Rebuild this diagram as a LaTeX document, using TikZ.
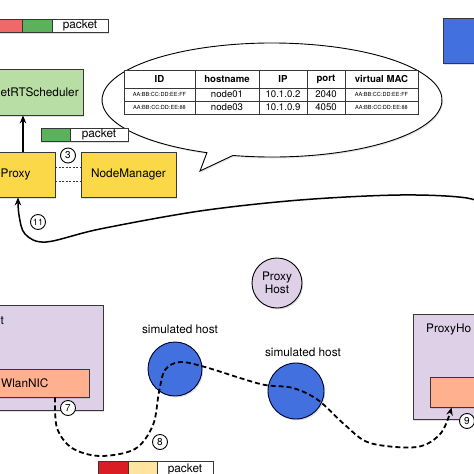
\documentclass[tikz,border=0pt]{standalone}
\usepackage{fontspec}
\setmainfont{TeX Gyre Heros}
\usetikzlibrary{arrows.meta,shadows}
\definecolor{schedgreen}{RGB}{185,222,165}
\definecolor{boxyellow}{RGB}{250,216,72}
\definecolor{lav}{RGB}{221,208,231}
\definecolor{salmon}{RGB}{255,176,143}
\definecolor{hostblue}{RGB}{66,112,222}
\definecolor{pkred}{RGB}{240,105,105}
\definecolor{pkgreen}{RGB}{92,178,92}
\definecolor{pkdred}{RGB}{218,28,36}
\definecolor{pkyellow}{RGB}{255,228,160}
\definecolor{edge}{RGB}{55,55,55}
\begin{document}
\begin{tikzpicture}[x=1pt,y=-1pt,
  shad/.style={drop shadow={shadow xshift=1.2pt,shadow yshift=-1.5pt,opacity=0.25}},
  box/.style={rectangle, draw=edge, line width=0.8pt, inner sep=0pt, shad,
    font=\fontsize{11.8}{14}\selectfont},
  cell/.style={rectangle, draw=edge, line width=0.8pt, inner sep=0pt, shad,
    font=\fontsize{11.8}{14}\selectfont},
  num/.style={circle, draw=black, line width=0.9pt, fill=white, minimum size=15pt,
    inner sep=0pt, font=\fontsize{10}{10}\selectfont},
  host/.style={circle, draw=black!85!blue, line width=0.9pt, fill=hostblue, minimum size=#1, inner sep=0pt, shad},
  lbl/.style={font=\fontsize{11.8}{13}\selectfont, inner sep=0pt},
  th/.style={font=\fontsize{9.6}{11}\selectfont\bfseries, inner sep=0pt},
  td/.style={font=\fontsize{9.6}{11}\selectfont, inner sep=0pt},
  tmac/.style={font=\fontsize{5.6}{7}\selectfont, inner sep=0pt},
  arr/.style={line width=1.5pt, black, -{Stealth[length=8pt,width=6.5pt]}},
  dpath/.style={line width=1.8pt, black, dash pattern=on 5pt off 3pt, -{Stealth[length=8pt,width=6.5pt]}},
  thindash/.style={line width=0.7pt, edge, dash pattern=on 2pt off 1.5pt}
]
\useasboundingbox (0,0) rectangle (474,474);
\clip (0,0) rectangle (474,474);

% top-left packet
\node[cell, fill=pkred, minimum width=32, minimum height=13] (p1a) at (6,25.5) {};
\node[cell, fill=pkgreen, minimum width=30, minimum height=13] (p1b) at (37,25.5) {};
\node[cell, fill=white, minimum width=56, minimum height=13] (p1c) at (80,25.5) {packet};

% scheduler
\node[box, fill=schedgreen, minimum width=99, minimum height=46] (sched) at (33.5,92) {};
\node[lbl, anchor=west] (schedl) at (0.5,92) {etRTScheduler};

% top-right blue square
\node[box, fill=hostblue, minimum width=80, minimum height=45] (blue) at (483,40.5) {};

% speech bubble
\draw[line width=0.9pt, black, fill=white, drop shadow={shadow xshift=1pt,shadow yshift=-1.5pt,opacity=0.2}]
  (272,100) ++(103.3:170 and 57)
  arc[start angle=103.3, end angle=-247.5, x radius=170, y radius=57]
  -- (200,171) -- cycle;

% table
\draw[line width=0.9pt, edge, fill=white] (124,70) rectangle (418,114);
\draw[line width=0.6pt, edge] (124,88) -- (418,88) (124,101) -- (418,101)
  (195,70) -- (195,114) (259,70) -- (259,114) (307,70) -- (307,114) (345,70) -- (345,114);
\node[th] (h1) at (159.5,79) {ID};
\node[th] (h2) at (227,79) {hostname};
\node[th] (h3) at (283,79) {IP};
\node[th] (h4) at (326,79.5) {port};
\node[th] (h5) at (381.5,79) {virtual MAC};
\node[tmac] (r11) at (159.5,94.5) {AA:BB:CC:DD:EE:FF};
\node[td] (r12) at (227,94.5) {node01};
\node[td] (r13) at (283,94.5) {10.1.0.2};
\node[td] (r14) at (326,94.5) {2040};
\node[tmac] (r15) at (381.5,94.5) {AA:BB:CC:DD:EE:FF};
\node[tmac] (r21) at (159.5,107.5) {AA:BB:CC:DD:EE:88};
\node[td] (r22) at (227,107.5) {node03};
\node[td] (r23) at (283,107.5) {10.1.0.9};
\node[td] (r24) at (326,107.5) {4050};
\node[tmac] (r25) at (381.5,107.5) {AA:BB:CC:DD:EE:88};

% second packet
\node[cell, fill=pkgreen, minimum width=29, minimum height=13] (p2a) at (55.5,134.5) {};
\node[cell, fill=white, minimum width=58, minimum height=13] (p2b) at (99,134.5) {packet};

% Proxy and NodeManager
\node[box, fill=boxyellow, minimum width=86, minimum height=45] (proxy) at (12,174.5) {};
\node[lbl, anchor=west] (proxyl) at (0.5,174.5) {Proxy};
\node[box, fill=boxyellow, minimum width=95, minimum height=45] (nm) at (128.5,174.5) {NodeManager};
\draw[thindash] ([yshift=7pt]proxy.east) -- ([yshift=7pt]nm.west);
\draw[thindash] ([yshift=-7pt]proxy.east) -- ([yshift=-7pt]nm.west);

\coordinate (pa) at ([xshift=11pt]proxy.north);
\draw[arr] (pa) -- (pa |- sched.south);
\node[num] (n3) at (68,155.5) {3};

% big return curve (11)
\coordinate (rin) at (492,209);
\coordinate (pb) at ([xshift=6pt]proxy.south);
\draw[arr] plot[smooth, tension=0.55] coordinates {(rin) (467,198) (400,195) (300,200) (200,211) (100,229) (46,242) (25,234) (19,215) (pb)};
\node[num] (n11) at (38,222) {\fontsize{9}{9}\selectfont 11};

% Proxy Host circle
\node[circle, draw=black, line width=0.9pt, fill=lav, minimum size=50pt, inner sep=0pt, shad,
  align=center, font=\fontsize{11.8}{13}\selectfont] (ph) at (277,283) {Proxy\\Host};

% left host box
\node[box, fill=lav, minimum width=150, minimum height=105] (lhost) at (28,357.5) {};
\node[lbl, anchor=west] (lhl) at (0.5,321) {t};
\node[box, fill=salmon, minimum width=130, minimum height=28] (nic) at (24,383) {};
\node[lbl, anchor=west] (nicl) at (1,383) {WlanNIC};

% right proxy host box
\node[box, fill=lav, minimum width=120, minimum height=105] (rhost) at (473,366.5) {};
\node[lbl, anchor=west] (rhl) at (426,329) {ProxyHo};
\node[box, fill=salmon, minimum width=100, minimum height=30] (phnic) at (480,392) {};

% simulated hosts
\node[host=54pt] (sh1) at (175,369) {};
\node[host=56pt] (sh2) at (296,391) {};
\node[lbl] (sh1l) at (180,329) {simulated host};
\node[lbl] (sh2l) at (303,352) {simulated host};

% dashed path
\coordinate (ds) at ([xshift=31pt]nic.south);
\coordinate (de) at ([xshift=22pt]phnic.south west);
\draw[dpath] plot[smooth, tension=0.55] coordinates {(ds) (57,428) (72,448) (100,456) (135,449) (153,425) (159,392) (165,370) (180,362) (205,367) (240,378) (265,385) (293,388) (318,400) (345,425) (370,443) (417,447) (441,433) (de)};
\node[num] (n7) at (68,408) {7};
\node[num] (n8) at (160,442) {8};
\node[num] (n9) at (467,421) {9};

% bottom packet
\node[cell, fill=pkdred, minimum width=30, minimum height=16] (p3a) at (113,469) {};
\node[cell, fill=pkyellow, minimum width=29, minimum height=16] (p3b) at (142.5,469) {};
\node[cell, fill=white, minimum width=56, minimum height=16] (p3c) at (185,469) {packet};
\end{tikzpicture}
\end{document}
